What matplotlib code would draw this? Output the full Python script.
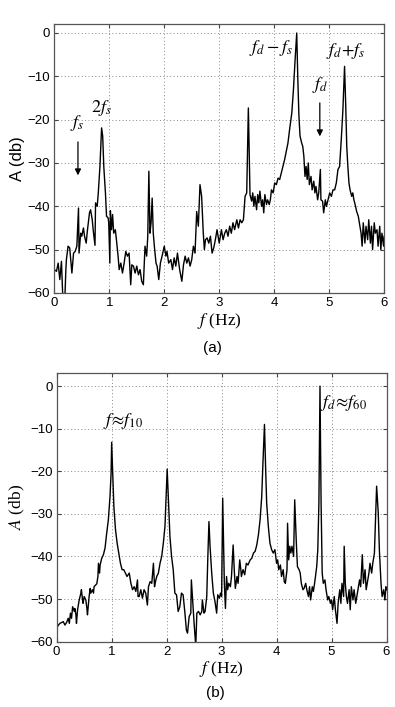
"""Two-panel amplitude spectra, (a) and (b)."""

import matplotlib

matplotlib.use("Agg")
import matplotlib.pyplot as plt

plt.rcParams["mathtext.fontset"] = "stix"
plt.rcParams["font.family"] = ["Liberation Sans", "DejaVu Sans"]

# panel (a) spectrum
freq_a = [
    0.00, 0.04, 0.07, 0.10, 0.13, 0.15, 0.16, 0.19, 0.21, 0.22, 0.25, 0.28, 0.32, 0.35, 0.38,
    0.41, 0.44, 0.45, 0.48, 0.50, 0.53, 0.55, 0.58, 0.60, 0.64, 0.66, 0.69, 0.71, 0.74, 0.75,
    0.78, 0.80, 0.83, 0.86, 0.88, 0.90, 0.93, 0.95, 0.98, 0.99, 1.01, 1.02, 1.04, 1.06, 1.08,
    1.11, 1.13, 1.16, 1.18, 1.21, 1.24, 1.27, 1.30, 1.33, 1.36, 1.39, 1.41, 1.44, 1.47, 1.50,
    1.53, 1.56, 1.59, 1.62, 1.65, 1.68, 1.70, 1.72, 1.74, 1.76, 1.78, 1.80, 1.82, 1.85, 1.87,
    1.90, 1.93, 1.96, 2.00, 2.03, 2.05, 2.08, 2.12, 2.15, 2.18, 2.21, 2.24, 2.28, 2.32, 2.35,
    2.38, 2.41, 2.44, 2.47, 2.50, 2.53, 2.56, 2.59, 2.62, 2.65, 2.68, 2.71, 2.73, 2.75, 2.78,
    2.81, 2.84, 2.87, 2.90, 2.93, 2.96, 3.00, 3.04, 3.07, 3.10, 3.13, 3.16, 3.19, 3.22, 3.25,
    3.28, 3.32, 3.35, 3.38, 3.41, 3.44, 3.47, 3.50, 3.53, 3.55, 3.56, 3.59, 3.61, 3.63, 3.65,
    3.68, 3.70, 3.72, 3.74, 3.77, 3.79, 3.81, 3.83, 3.86, 3.88, 3.91, 3.93, 3.95, 3.98, 4.01,
    4.04, 4.07, 4.10, 4.13, 4.16, 4.19, 4.22, 4.25, 4.28, 4.32, 4.35, 4.38, 4.41, 4.43, 4.45,
    4.47, 4.50, 4.52, 4.54, 4.56, 4.58, 4.60, 4.62, 4.64, 4.67, 4.69, 4.72, 4.74, 4.76, 4.79,
    4.81, 4.84, 4.85, 4.88, 4.90, 4.93, 4.95, 4.98, 5.01, 5.04, 5.07, 5.10, 5.13, 5.16, 5.19,
    5.22, 5.25, 5.28, 5.30, 5.32, 5.34, 5.36, 5.38, 5.41, 5.43, 5.45, 5.48, 5.50, 5.53, 5.55,
    5.58, 5.60, 5.62, 5.65, 5.67, 5.70, 5.72, 5.75, 5.77, 5.79, 5.82, 5.84, 5.87, 5.89, 5.92,
    5.94, 5.96, 5.99, 6.00,
]
amp_a = [
    -54.6, -55.0, -53.1, -56.9, -52.7, -59.6, -62.0, -62.0, -54.6, -52.3, -49.2, -49.6, -55.4, -50.8, -50.4,
    -49.2, -40.4, -50.8, -46.2, -46.9, -45.0, -46.9, -48.5, -45.8, -41.5, -40.8, -43.1, -45.8, -49.0, -39.2,
    -40.0, -36.9, -30.8, -21.9, -23.8, -30.8, -36.9, -42.3, -42.7, -43.8, -53.1, -41.0, -45.4, -41.9, -46.2,
    -45.4, -47.7, -51.5, -54.6, -53.1, -55.4, -53.1, -50.4, -51.5, -50.8, -58.1, -53.5, -53.8, -55.4, -53.8,
    -55.8, -54.6, -57.3, -58.1, -49.2, -51.5, -46.9, -31.9, -46.2, -43.8, -38.1, -46.2, -49.2, -53.1, -53.8,
    -56.9, -53.1, -51.5, -49.2, -51.5, -50.4, -53.1, -52.3, -54.6, -51.9, -53.8, -50.8, -54.6, -57.3, -53.5,
    -51.5, -53.1, -51.9, -53.8, -52.3, -49.2, -50.8, -41.2, -44.6, -35.0, -37.7, -46.2, -50.0, -47.7, -47.3,
    -48.5, -46.9, -50.8, -49.6, -47.7, -45.4, -48.5, -45.4, -47.7, -46.2, -45.4, -46.9, -44.6, -46.2, -43.8,
    -45.4, -43.1, -45.0, -43.1, -43.8, -43.1, -37.7, -36.9, -17.3, -31.5, -37.3, -38.8, -36.9, -40.0, -37.7,
    -40.8, -37.3, -39.2, -36.5, -40.0, -38.5, -41.5, -37.3, -39.6, -38.5, -39.6, -38.5, -36.2, -36.9, -34.6,
    -35.0, -33.5, -33.8, -32.3, -30.8, -29.2, -27.3, -25.4, -22.3, -18.5, -13.1, -6.2, 0.0, -10.8, -19.2,
    -23.8, -25.4, -26.2, -28.5, -33.1, -30.8, -33.8, -30.0, -35.0, -33.1, -36.2, -34.2, -36.9, -35.4, -38.5,
    -36.9, -31.5, -38.5, -38.8, -41.5, -38.5, -40.0, -38.5, -36.9, -37.7, -36.2, -36.2, -34.6, -31.5, -30.8,
    -24.6, -17.7, -7.7, -16.2, -26.2, -30.8, -34.6, -36.2, -37.7, -36.9, -38.5, -40.0, -41.2, -42.3, -43.8,
    -46.2, -49.2, -43.8, -48.5, -44.6, -47.7, -43.1, -48.5, -44.6, -50.0, -43.8, -46.2, -45.4, -49.2, -44.6,
    -50.0, -46.2, -49.2, -46.9,
]

# panel (b) spectrum
freq_b = [
    0.00, 0.03, 0.06, 0.09, 0.12, 0.15, 0.18, 0.21, 0.23, 0.25, 0.27, 0.29, 0.32, 0.33, 0.35,
    0.36, 0.38, 0.41, 0.44, 0.45, 0.47, 0.48, 0.50, 0.53, 0.55, 0.56, 0.59, 0.61, 0.62, 0.65,
    0.67, 0.68, 0.71, 0.73, 0.75, 0.76, 0.78, 0.79, 0.82, 0.85, 0.88, 0.91, 0.94, 0.97, 0.99,
    1.00, 1.02, 1.04, 1.07, 1.10, 1.13, 1.16, 1.19, 1.22, 1.25, 1.28, 1.32, 1.35, 1.38, 1.41,
    1.44, 1.47, 1.48, 1.50, 1.53, 1.56, 1.59, 1.62, 1.65, 1.67, 1.70, 1.73, 1.76, 1.78, 1.79,
    1.82, 1.85, 1.88, 1.91, 1.94, 1.97, 1.99, 2.01, 2.04, 2.06, 2.09, 2.12, 2.15, 2.18, 2.21,
    2.24, 2.27, 2.30, 2.33, 2.36, 2.38, 2.41, 2.44, 2.45, 2.48, 2.50, 2.53, 2.55, 2.58, 2.61,
    2.64, 2.65, 2.68, 2.70, 2.73, 2.75, 2.77, 2.79, 2.82, 2.85, 2.88, 2.91, 2.93, 2.96, 2.98,
    3.00, 3.02, 3.05, 3.07, 3.09, 3.11, 3.13, 3.16, 3.18, 3.21, 3.23, 3.25, 3.28, 3.30, 3.33,
    3.35, 3.36, 3.39, 3.42, 3.45, 3.48, 3.52, 3.55, 3.58, 3.61, 3.64, 3.67, 3.70, 3.73, 3.75,
    3.78, 3.80, 3.82, 3.85, 3.88, 3.91, 3.94, 3.97, 4.00, 4.02, 4.04, 4.07, 4.09, 4.12, 4.14,
    4.16, 4.19, 4.20, 4.22, 4.24, 4.26, 4.28, 4.31, 4.33, 4.36, 4.38, 4.41, 4.43, 4.45, 4.48,
    4.50, 4.53, 4.55, 4.58, 4.60, 4.62, 4.65, 4.67, 4.70, 4.73, 4.75, 4.77, 4.79, 4.81, 4.83,
    4.85, 4.88, 4.90, 4.93, 4.95, 4.98, 5.00, 5.02, 5.05, 5.07, 5.10, 5.12, 5.15, 5.17, 5.19,
    5.22, 5.23, 5.25, 5.27, 5.29, 5.32, 5.34, 5.36, 5.39, 5.41, 5.44, 5.46, 5.48, 5.51, 5.53,
    5.56, 5.58, 5.61, 5.63, 5.65, 5.68, 5.70, 5.73, 5.75, 5.78, 5.80, 5.82, 5.85, 5.87, 5.90,
    5.92, 5.95, 5.97, 5.99, 6.00,
]
amp_b = [
    -56.9, -56.1, -55.7, -55.5, -55.3, -56.1, -55.5, -54.5, -55.7, -53.3, -54.5, -51.8, -52.9, -52.2, -53.7,
    -55.7, -52.5, -50.2, -48.6, -47.8, -50.2, -51.0, -49.4, -50.2, -52.2, -53.7, -49.4, -47.5, -48.6, -47.8,
    -48.6, -47.1, -46.7, -46.4, -44.7, -41.6, -43.9, -42.0, -40.4, -39.6, -38.0, -34.5, -31.4, -25.9, -20.4,
    -13.2, -20.4, -28.2, -33.7, -36.9, -39.2, -41.6, -43.1, -43.1, -43.9, -44.7, -43.9, -46.3, -47.8, -47.1,
    -48.2, -45.5, -49.4, -49.4, -47.8, -49.8, -47.8, -48.6, -51.4, -47.1, -45.9, -46.3, -41.6, -47.1, -46.3,
    -44.7, -43.9, -41.6, -40.0, -36.9, -32.9, -25.9, -19.5, -29.0, -35.3, -40.0, -43.1, -48.6, -49.0, -52.9,
    -51.8, -48.6, -49.0, -52.9, -57.3, -58.0, -54.1, -53.3, -45.5, -51.8, -55.7, -61.0, -53.3, -52.9, -53.7,
    -52.9, -50.2, -53.3, -52.9, -49.4, -40.0, -31.8, -37.6, -43.9, -48.6, -50.6, -53.3, -49.0, -49.8, -48.6,
    -49.4, -26.3, -46.3, -52.2, -44.7, -47.8, -46.3, -47.1, -44.7, -37.3, -43.1, -47.5, -44.7, -46.3, -40.8,
    -43.1, -44.7, -43.1, -44.3, -41.6, -42.0, -40.8, -40.4, -39.2, -38.8, -37.3, -34.9, -31.4, -25.9, -18.8,
    -9.0, -18.8, -27.5, -32.9, -36.9, -38.4, -39.2, -38.4, -41.6, -40.8, -43.1, -42.0, -44.7, -43.1, -45.9,
    -46.3, -43.1, -32.2, -40.8, -37.6, -39.2, -37.6, -40.0, -26.7, -36.9, -42.4, -43.1, -43.9, -46.3, -47.8,
    -47.5, -46.3, -47.8, -49.4, -47.1, -50.2, -47.1, -48.2, -45.5, -42.4, -38.4, -27.5, 0.0, -27.5, -43.9,
    -46.3, -45.5, -47.8, -50.2, -49.4, -51.0, -50.2, -52.5, -49.4, -52.5, -55.7, -51.0, -47.8, -51.0, -46.3,
    -49.4, -37.6, -46.3, -49.4, -51.0, -47.8, -52.5, -47.1, -50.2, -47.8, -51.0, -49.4, -47.8, -45.5, -47.1,
    -39.6, -46.3, -43.1, -47.8, -46.3, -43.9, -41.6, -43.9, -41.6, -39.2, -31.4, -23.5, -29.8, -38.4, -46.3,
    -49.4, -47.8, -50.2, -47.1, -47.8,
]

x_ticks = [0, 1, 2, 3, 4, 5, 6]
y_ticks = [-60, -50, -40, -30, -20, -10, 0]

SERIF = ["Liberation Serif", "DejaVu Serif"]


def style_axes(ax, ytop):
    ax.set_xlim(0, 6)
    ax.set_ylim(-60, ytop)
    ax.set_xticks(x_ticks)
    ax.set_yticks(y_ticks)
    ax.grid(True, linestyle=(0, (1, 2.5)), color="#888888", linewidth=0.7)
    ax.tick_params(direction="in", length=3, top=True, right=True, labelsize=9.5, pad=3,
                   color="#444444")
    for spine in ax.spines.values():
        spine.set_color("#555555")
        spine.set_linewidth(0.9)


fig = plt.figure(figsize=(3.95, 7.07), dpi=100)

ax_a = fig.add_axes([0.1375, 0.5856, 0.835, 0.380])
ax_a.plot(freq_a, amp_a, color="black", linewidth=1.0)
style_axes(ax_a, 2.0)
ax_a.set_ylabel("A (db)", fontsize=12, labelpad=2)
ax_a.set_xlabel(r"$f$ (Hz)", fontsize=12.5, family=SERIF, labelpad=1)

txt = dict(fontsize=13, ha="center", va="center")
ax_a.text(0.41, -20.7, r"$f_s$", **txt)
ax_a.text(0.86, -17.3, r"$2f_s$", **txt)
ax_a.text(3.95, -3.5, r"$f_d - f_s$", **txt)
ax_a.text(5.31, -4.2, r"$f_d\!+\!f_s$", **txt)
ax_a.text(4.83, -12.0, r"$f_d$", **txt)
arrow = dict(arrowstyle="-|>", color="black", lw=0.9, mutation_scale=9)
ax_a.annotate("", xy=(0.43, -33.5), xytext=(0.43, -24.5), arrowprops=arrow)
ax_a.annotate("", xy=(4.83, -24.5), xytext=(4.83, -15.5), arrowprops=arrow)

ax_b = fig.add_axes([0.1435, 0.0924, 0.835, 0.3796])
ax_b.plot(freq_b, amp_b, color="black", linewidth=1.0)
style_axes(ax_b, 3.0)
ax_b.set_ylabel(r"$A$ (db)", fontsize=12.5, family=SERIF, labelpad=2)
ax_b.set_xlabel(r"$f$ (Hz)", fontsize=12.5, family=SERIF, labelpad=1)
ax_b.text(1.21, -8.2, r"$f\!\approx\! f_{10}$", **txt)
ax_b.text(5.21, -3.9, r"$f_d\!\approx\! f_{60}$", **txt)

fig.text(0.537, 1 - 348.3 / 707, "(a)", fontsize=11, ha="center", va="center")
fig.text(0.545, 1 - 693.3 / 707, "(b)", fontsize=11, ha="center", va="center")

fig.savefig("out.png", dpi=100)
